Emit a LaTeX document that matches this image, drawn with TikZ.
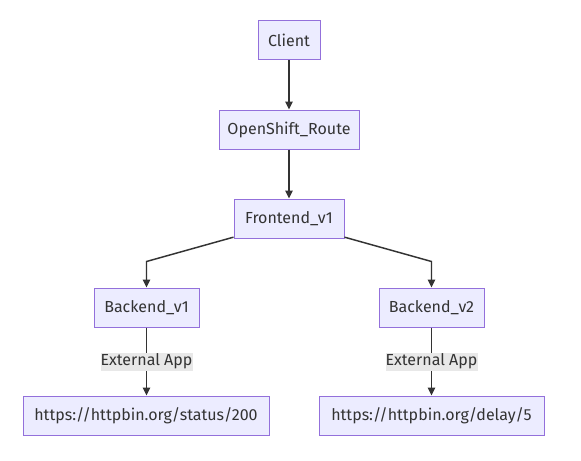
\documentclass[tikz,border=0pt]{standalone}
\usepackage{fontspec}
\setmainfont{Fira Sans}
\usetikzlibrary{arrows.meta,positioning}
\definecolor{nodefill}{HTML}{ECECFF}
\definecolor{nodeline}{HTML}{9370DB}
\definecolor{edgecol}{HTML}{333333}
\definecolor{lblbg}{HTML}{E8E8E8}
\tikzset{
  box/.style={draw=nodeline, fill=nodefill, line width=0.75pt, minimum height=39*0.75pt, inner sep=0pt, text=edgecol, font=\fontsize{12}{14}\selectfont},
  arr/.style={draw=edgecol, line width=1.1pt, -{Triangle[length=6pt,width=5.5pt]}},
  lbl/.style={fill=lblbg, inner sep=0pt, minimum width=92*0.75pt, minimum height=18*0.75pt, text=edgecol, font=\fontsize{12}{14}\selectfont}
}
\begin{document}
\begin{tikzpicture}[x=0.75pt,y=-0.75pt]
\useasboundingbox[fill=white] (0,0) rectangle (581,460);
\node[box, minimum width=62*0.75pt] (cl) at (289,40.5) {Client};
\node[box, minimum width=140*0.75pt] (rt) at (289,129.5) {OpenShift\_Route};
\node[box, minimum width=110*0.75pt] (fe) at (289,218.5) {Frontend\_v1};
\node[box, minimum width=105*0.75pt] (b1) at (146.5,307.5) {Backend\_v1};
\node[box, minimum width=105*0.75pt] (b2) at (431.5,307.5) {Backend\_v2};
\node[box, minimum width=246*0.75pt] (u1) at (146,415.5) {https://httpbin.org/status/200};
\node[box, minimum width=225*0.75pt] (u2) at (431.5,415.5) {https://httpbin.org/delay/5};
\draw[arr] (cl) -- (rt);
\draw[arr] (rt) -- (fe);
\draw[arr] ([yshift=1pt]fe.south west) -- ([yshift=19.5pt]b1.north) -- (b1.north);
\draw[arr] ([yshift=1pt]fe.south east) -- ([yshift=19.5pt]b2.north) -- (b2.north);
\draw[arr] (b1) -- node[lbl] (l1) {External App} (u1.north -| b1);
\draw[arr] (b2) -- node[lbl] (l2) {External App} (u2.north -| b2);
\end{tikzpicture}
\end{document}
